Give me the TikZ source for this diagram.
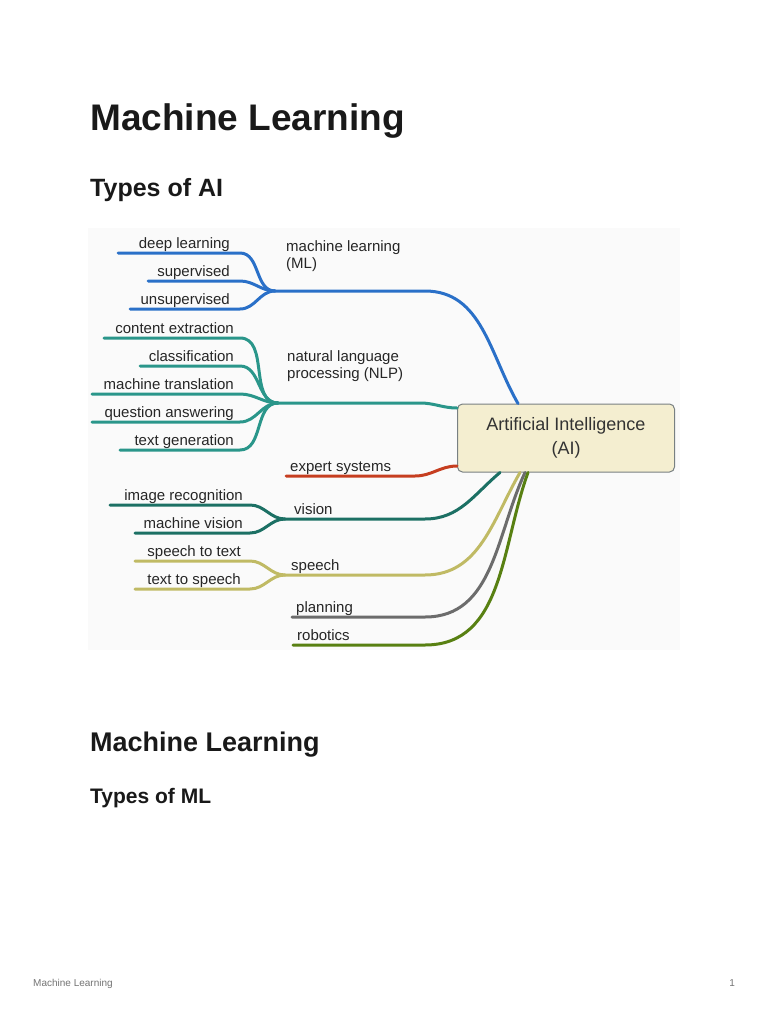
\documentclass[tikz,border=0pt]{standalone}
\usepackage{fontspec}
\setmainfont{Liberation Sans}
\usetikzlibrary{positioning,calc}
\definecolor{BranchML}{RGB}{42,112,200}
\definecolor{BranchNLP}{RGB}{42,150,138}
\definecolor{BranchExpert}{RGB}{198,62,32}
\definecolor{BranchVision}{RGB}{28,112,100}
\definecolor{BranchSpeech}{RGB}{192,186,100}
\definecolor{BranchPlanning}{RGB}{108,108,108}
\definecolor{BranchRobotics}{RGB}{88,128,18}
\definecolor{BoxFill}{RGB}{244,238,208}
\definecolor{BoxDraw}{RGB}{120,128,130}
\tikzset{
  map label/.style={
    font=\fontsize{15}{17}\selectfont, text=black!85, inner sep=0pt
  },
  leaf label/.style={
    map label, anchor=base east
  },
  branch label/.style={
    map label, anchor=base west, align=left
  },
  branch/.style={
    draw=#1, line width=3pt, line cap=round
  },
  heading/.style={
    anchor=base west, inner sep=0pt, text=black!90
  },
}
\begin{document}
\begin{tikzpicture}[x=1pt,y=-1pt]
  \useasboundingbox (0,0) rectangle (768,1024);
  % headings
  \node[heading, font=\fontsize{37}{40}\selectfont\bfseries] (title) at (90,131) {Machine Learning};
  \node[heading, font=\fontsize{25}{30}\selectfont\bfseries] (typesai) at (90,197) {Types of AI};
  \node[heading, font=\fontsize{27}{32}\selectfont\bfseries] (ml) at (90,751) {Machine Learning};
  \node[heading, font=\fontsize{21}{24}\selectfont\bfseries] (typesml) at (90,803) {Types of ML};
  \node[heading, font=\fontsize{10}{12}\selectfont, text=black!55] (footer) at (33,986) {Machine Learning};
  \node[font=\fontsize{10}{12}\selectfont, text=black!55, anchor=base east, inner sep=0pt] (page) at (735,986) {1};
  % mind map
  \fill[black!2] (88,228) rectangle (680,650);
  \node[draw=BoxDraw, fill=BoxFill, rounded corners=5pt, line width=1pt,
        minimum width=217pt, minimum height=68pt, align=center,
        font=\fontsize{18}{24}\selectfont, text=black!80] (ai) at (566,438)
        {Artificial Intelligence\\(AI)};
  % machine learning
  \coordinate (jml) at (275,291);
  \node[branch label] (lml) at (286,268) {machine learning\\(ML)};
  \foreach \name/\txt/\ypos/\xs in {deep/deep learning/253/118,sup/supervised/281/148,unsup/unsupervised/309/130}{
    \node[leaf label] (\name) at (230,\ypos-5) {\txt};
    \coordinate (\name s) at (\xs,\ypos);
    \coordinate (\name e) at (240,\ypos);
    \draw[branch=BranchML] (\name s) -- (\name e) to[out=0,in=180] (jml);
  }
  \coordinate (tml) at (425,291);
  \draw[branch=BranchML] (jml) -- (tml) to[out=0,in=120] ([xshift=-48pt]ai.north);
  % natural language processing
  \coordinate (jnlp) at (278,403);
  \node[branch label] (lnlp) at (287,378) {natural language\\processing (NLP)};
  \foreach \name/\txt/\ypos/\xs in {cont/content extraction/338/104,clas/classification/366/140,trans/machine translation/394/92,quest/question answering/422/92,gen/text generation/450/120}{
    \node[leaf label] (\name) at (234,\ypos-5) {\txt};
    \coordinate (\name s) at (\xs,\ypos);
    \coordinate (\name e) at (240,\ypos);
    \draw[branch=BranchNLP] (\name s) -- (\name e) to[out=0,in=180] (jnlp);
  }
  \coordinate (tnlp) at (420,403);
  \draw[branch=BranchNLP] (jnlp) -- (tnlp) to[out=0,in=180] ([yshift=30pt]ai.west);
  % expert systems
  \node[branch label] (lexp) at (290,471) {expert systems};
  \coordinate (sexp) at (286,476);
  \coordinate (texp) at (415,476);
  \draw[branch=BranchExpert] (sexp) -- (texp) to[out=0,in=180] ([yshift=-28pt]ai.west);
  % vision
  \coordinate (jvis) at (285,519);
  \node[branch label] (lvis) at (294,514) {vision};
  \foreach \name/\txt/\ypos/\xs in {imrec/image recognition/505/110,mvis/machine vision/533/135}{
    \node[leaf label] (\name) at (243,\ypos-5) {\txt};
    \coordinate (\name s) at (\xs,\ypos);
    \coordinate (\name e) at (250,\ypos);
    \draw[branch=BranchVision] (\name s) -- (\name e) to[out=0,in=180] (jvis);
  }
  \coordinate (tvis) at (425,519);
  \draw[branch=BranchVision] (jvis) -- (tvis) to[out=0,in=220] ([xshift=-66pt]ai.south);
  % speech
  \coordinate (jsp) at (285,575);
  \node[branch label] (lsp) at (291,570) {speech};
  \foreach \name/\txt/\ypos/\xs in {stt/speech to text/561/135,tts/text to speech/589/135}{
    \node[leaf label] (\name) at (241,\ypos-5) {\txt};
    \coordinate (\name s) at (\xs,\ypos);
    \coordinate (\name e) at (250,\ypos);
    \draw[branch=BranchSpeech] (\name s) -- (\name e) to[out=0,in=180] (jsp);
  }
  \coordinate (tsp) at (425,575);
  \draw[branch=BranchSpeech] (jsp) -- (tsp) to[out=0,in=240] ([xshift=-46pt]ai.south);
  % planning
  \node[branch label] (lplan) at (296,612) {planning};
  \coordinate (splan) at (292,617);
  \coordinate (tplan) at (425,617);
  \draw[branch=BranchPlanning] (splan) -- (tplan) to[out=0,in=245] ([xshift=-41pt]ai.south);
  % robotics
  \node[branch label] (lrob) at (297,640) {robotics};
  \coordinate (srob) at (293,645);
  \coordinate (trob) at (425,645);
  \draw[branch=BranchRobotics] (srob) -- (trob) to[out=0,in=250] ([xshift=-38pt]ai.south);
\end{tikzpicture}
\end{document}
